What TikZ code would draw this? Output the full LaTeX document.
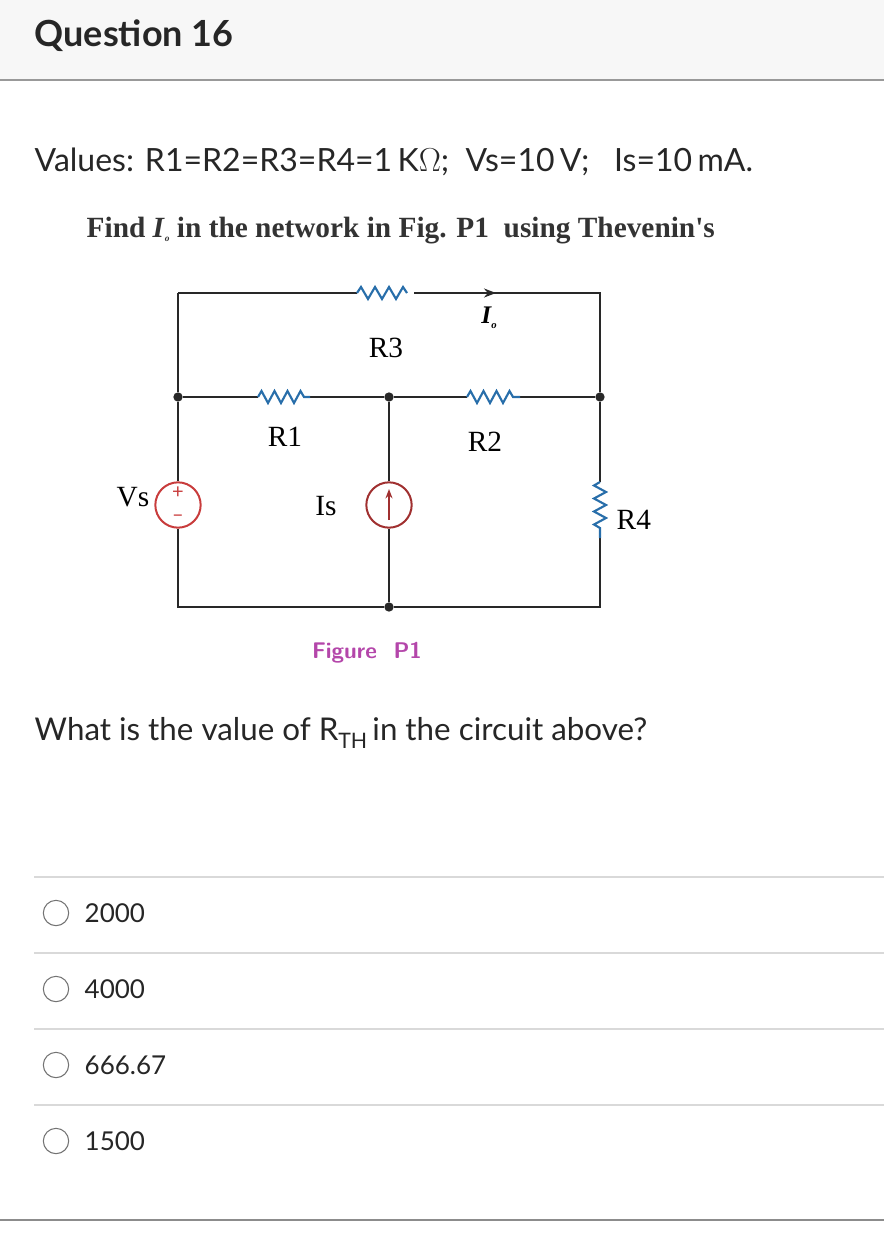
\documentclass[tikz,border=0pt]{standalone}
\usepackage{fontspec}
\setmainfont{Lato}
\newfontfamily\serif{Liberation Serif}
\usetikzlibrary{arrows.meta}
\definecolor{wire}{RGB}{40,40,40}
\definecolor{res}{RGB}{40,110,170}
\definecolor{src}{RGB}{200,60,60}
\definecolor{fig}{RGB}{180,70,170}
\begin{document}
\begin{tikzpicture}[x=0.75pt,y=-0.75pt,
  w/.style={draw=wire,line width=2.2pt},
  dot/.style={circle,fill=wire,inner sep=0pt,minimum size=7pt},
  lbl/.style={font=\serif\fontsize{22}{22}\selectfont,text=black},
  sep/.style={draw=black!15,line width=0.8pt},
  radio/.style={draw=black!55,line width=0.8pt},
  opt/.style={anchor=west,font=\fontsize{19.5}{19.5}\selectfont,text=black!85}]
\useasboundingbox (0,0) rectangle (884,1234);
\fill[black!3] (0,0) rectangle (884,80);
\draw[black!40,line width=1pt] (0,80) -- (884,80);
\node[anchor=west,font=\bfseries\fontsize{27}{27}\selectfont,text=black!85] (q) at (30,36) {Question 16};
\node[anchor=west,font=\fontsize{24}{24}\selectfont,text=black!85] (v) at (30,162) {Values: R1=R2=R3=R4=1\,K$\Omega$;\ \ Vs=10\,V;\ \ \ Is=10\,mA.};
\node[anchor=west,font=\serif\bfseries\fontsize{22}{22}\selectfont,text=black!80] (f) at (82,231) {Find \textit{I}\raisebox{-0.3ex}{\scriptsize\textit{o}} in the network in Fig. P1\ \ using Thevenin's};
% circuit nodes
\coordinate (tl) at (178,293); \coordinate (tr) at (600,293);
\node[dot] (ml) at (178,397) {}; \node[dot] (mm) at (389,397) {}; \node[dot] (mr) at (600,397) {};
\coordinate (bl) at (178,607); \node[dot] (bm) at (389,607) {}; \coordinate (br) at (600,607);
\node[circle,draw=src,line width=1.5pt,minimum size=34pt,inner sep=0pt] (vs) at (178,505) {};
\node[circle,draw=src!80!black,line width=1.5pt,minimum size=34pt,inner sep=0pt] (is) at (389,505) {};
\draw[w] (tl) -- (ml) -- (vs.north);
\draw[w] (vs.south) -- (bl) -- (bm) -- (br) -- (600,538);
\draw[w] (600,482) -- (mr) -- (tr) -- (414,293);
\draw[w] (357,293) -- (tl);
\draw[res,line width=1.6pt] (357,293) -- ++(4,-6) -- ++(7,12) -- ++(7,-12) -- ++(7,12) -- ++(7,-12) -- ++(7,12) -- ++(7,-12) -- ++(4,6);
\draw[w] (ml) -- (258,397); \draw[w] (310,397) -- (mm) -- (467,397); \draw[w] (520,397) -- (mr);
\draw[res,line width=1.6pt] (258,397) -- ++(3.5,-6) -- ++(6.5,12) -- ++(6.5,-12) -- ++(6.5,12) -- ++(6.5,-12) -- ++(6.5,12) -- ++(6.5,-12) -- ++(3.5,6) -- (310,397);
\draw[res,line width=1.6pt] (467,397) -- ++(3.5,-6) -- ++(6.5,12) -- ++(6.5,-12) -- ++(6.5,12) -- ++(6.5,-12) -- ++(6.5,12) -- ++(6.5,-12) -- ++(3.5,6) -- (520,397);
\draw[res,line width=1.6pt] (600,482) -- ++(-6,3.5) -- ++(12,6.5) -- ++(-12,6.5) -- ++(12,6.5) -- ++(-12,6.5) -- ++(12,6.5) -- ++(-12,6.5) -- ++(6,3.5) -- (600,538);
\draw[w] (mm) -- (is.north); \draw[w] (is.south) -- (bm);
\draw[-{Stealth[length=9pt]},wire,line width=2.2pt] (440,293) -- (496,293);
\draw[src!80!black,line width=1.5pt,-{Stealth[length=7pt]}] (389,520) -- (389,489);
\node[text=src,font=\fontsize{15}{15}\selectfont,inner sep=0pt] (pl) at (178,493) {+};
\node[text=src,font=\fontsize{15}{15}\selectfont,inner sep=0pt] (mi) at (178,518) {--};
\node[lbl] (r3) at (386,348) {R3};
\node[lbl] (r1) at (285,437) {R1};
\node[lbl] (r2) at (485,442) {R2};
\node[lbl,anchor=east] (vsl) at (154,497) {Vs};
\node[lbl] (isl) at (326,506) {Is};
\node[lbl,anchor=west] (r4) at (612,520) {R4};
\node[font=\serif\itshape\bfseries\fontsize{19}{19}\selectfont] (io) at (489,318) {\textit{I}\raisebox{-0.4ex}{\footnotesize o}};
\node[text=fig,font=\sffamily\bfseries\fontsize{17}{17}\selectfont] (fp) at (367,653) {Figure\ \ P1};
\node[anchor=west,font=\fontsize{23.5}{23.5}\selectfont,text=black!85] (qq) at (30,733) {What is the value of R\raisebox{-0.5ex}{\fontsize{16}{16}\selectfont TH}\,in the circuit above?};
\foreach \y in {877,953,1029,1105} \draw[sep] (34,\y) -- (884,\y);
\draw[black!45,line width=1pt] (0,1220) -- (884,1220);
\foreach \y/\t [count=\i] in {913/2000,989/4000,1065/666.67,1141/1500} {
  \node[circle,radio,minimum size=19pt,inner sep=0pt] (c\i) at (56,\y) {};
  \node[opt] (o\i) at (80,\y) {\t};
}
\end{tikzpicture}
\end{document}
